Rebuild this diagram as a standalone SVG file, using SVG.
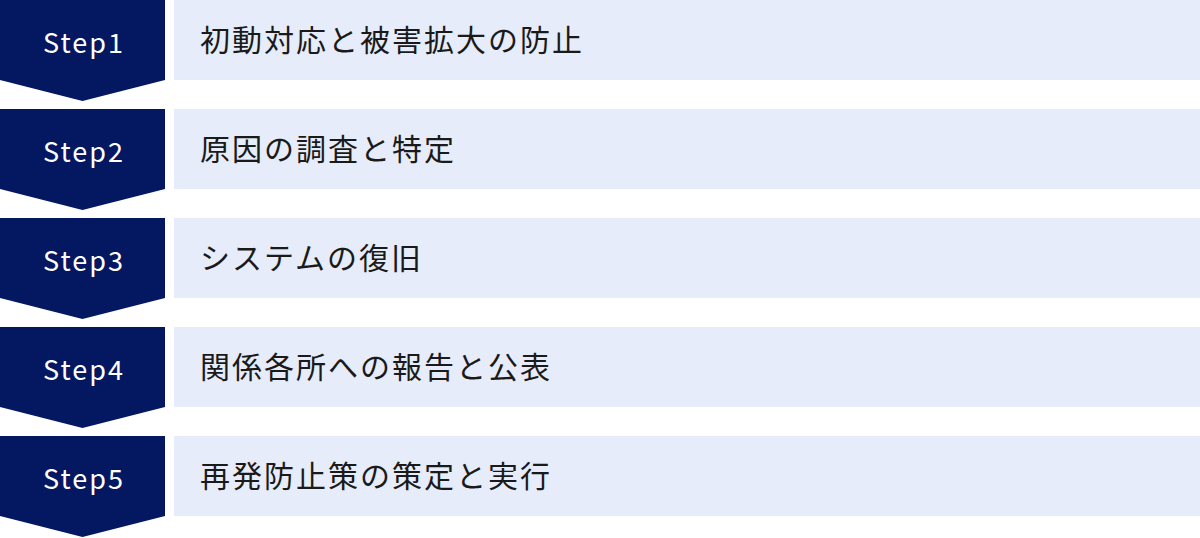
<svg xmlns="http://www.w3.org/2000/svg" width="1200" height="538" viewBox="0 0 1200 538">
<style>
.chev{fill:#041861}
.box{fill:#e6ecf9}
.st{font-family:"Noto Sans CJK JP","Noto Sans",sans-serif;font-size:27px;font-weight:400;fill:#ffffff;text-anchor:middle;letter-spacing:2px}
.lb{font-family:"Noto Sans CJK JP","Noto Sans",sans-serif;font-size:30px;fill:#1a1a1a;letter-spacing:2px}
</style>
<defs>
<path id="chevron" d="M0 0H165V80L82.5 101L0 80Z"/>
</defs>
<g id="connectors"></g>
<g id="step1" transform="translate(0,0)">
<use href="#chevron" class="chev"/>
<rect class="box" x="174" y="0" width="1026" height="80"/>
<text class="st" x="84" y="53">Step1</text>
<text class="lb" x="200" y="51">初動対応と被害拡大の防止</text>
</g>
<g id="step2" transform="translate(0,109)">
<use href="#chevron" class="chev"/>
<rect class="box" x="174" y="0" width="1026" height="80"/>
<text class="st" x="84" y="53">Step2</text>
<text class="lb" x="200" y="51">原因の調査と特定</text>
</g>
<g id="step3" transform="translate(0,218)">
<use href="#chevron" class="chev"/>
<rect class="box" x="174" y="0" width="1026" height="80"/>
<text class="st" x="84" y="53">Step3</text>
<text class="lb" x="200" y="51">システムの復旧</text>
</g>
<g id="step4" transform="translate(0,327)">
<use href="#chevron" class="chev"/>
<rect class="box" x="174" y="0" width="1026" height="80"/>
<text class="st" x="84" y="53">Step4</text>
<text class="lb" x="200" y="51">関係各所への報告と公表</text>
</g>
<g id="step5" transform="translate(0,436)">
<use href="#chevron" class="chev"/>
<rect class="box" x="174" y="0" width="1026" height="80"/>
<text class="st" x="84" y="53">Step5</text>
<text class="lb" x="200" y="51">再発防止策の策定と実行</text>
</g>
</svg>
